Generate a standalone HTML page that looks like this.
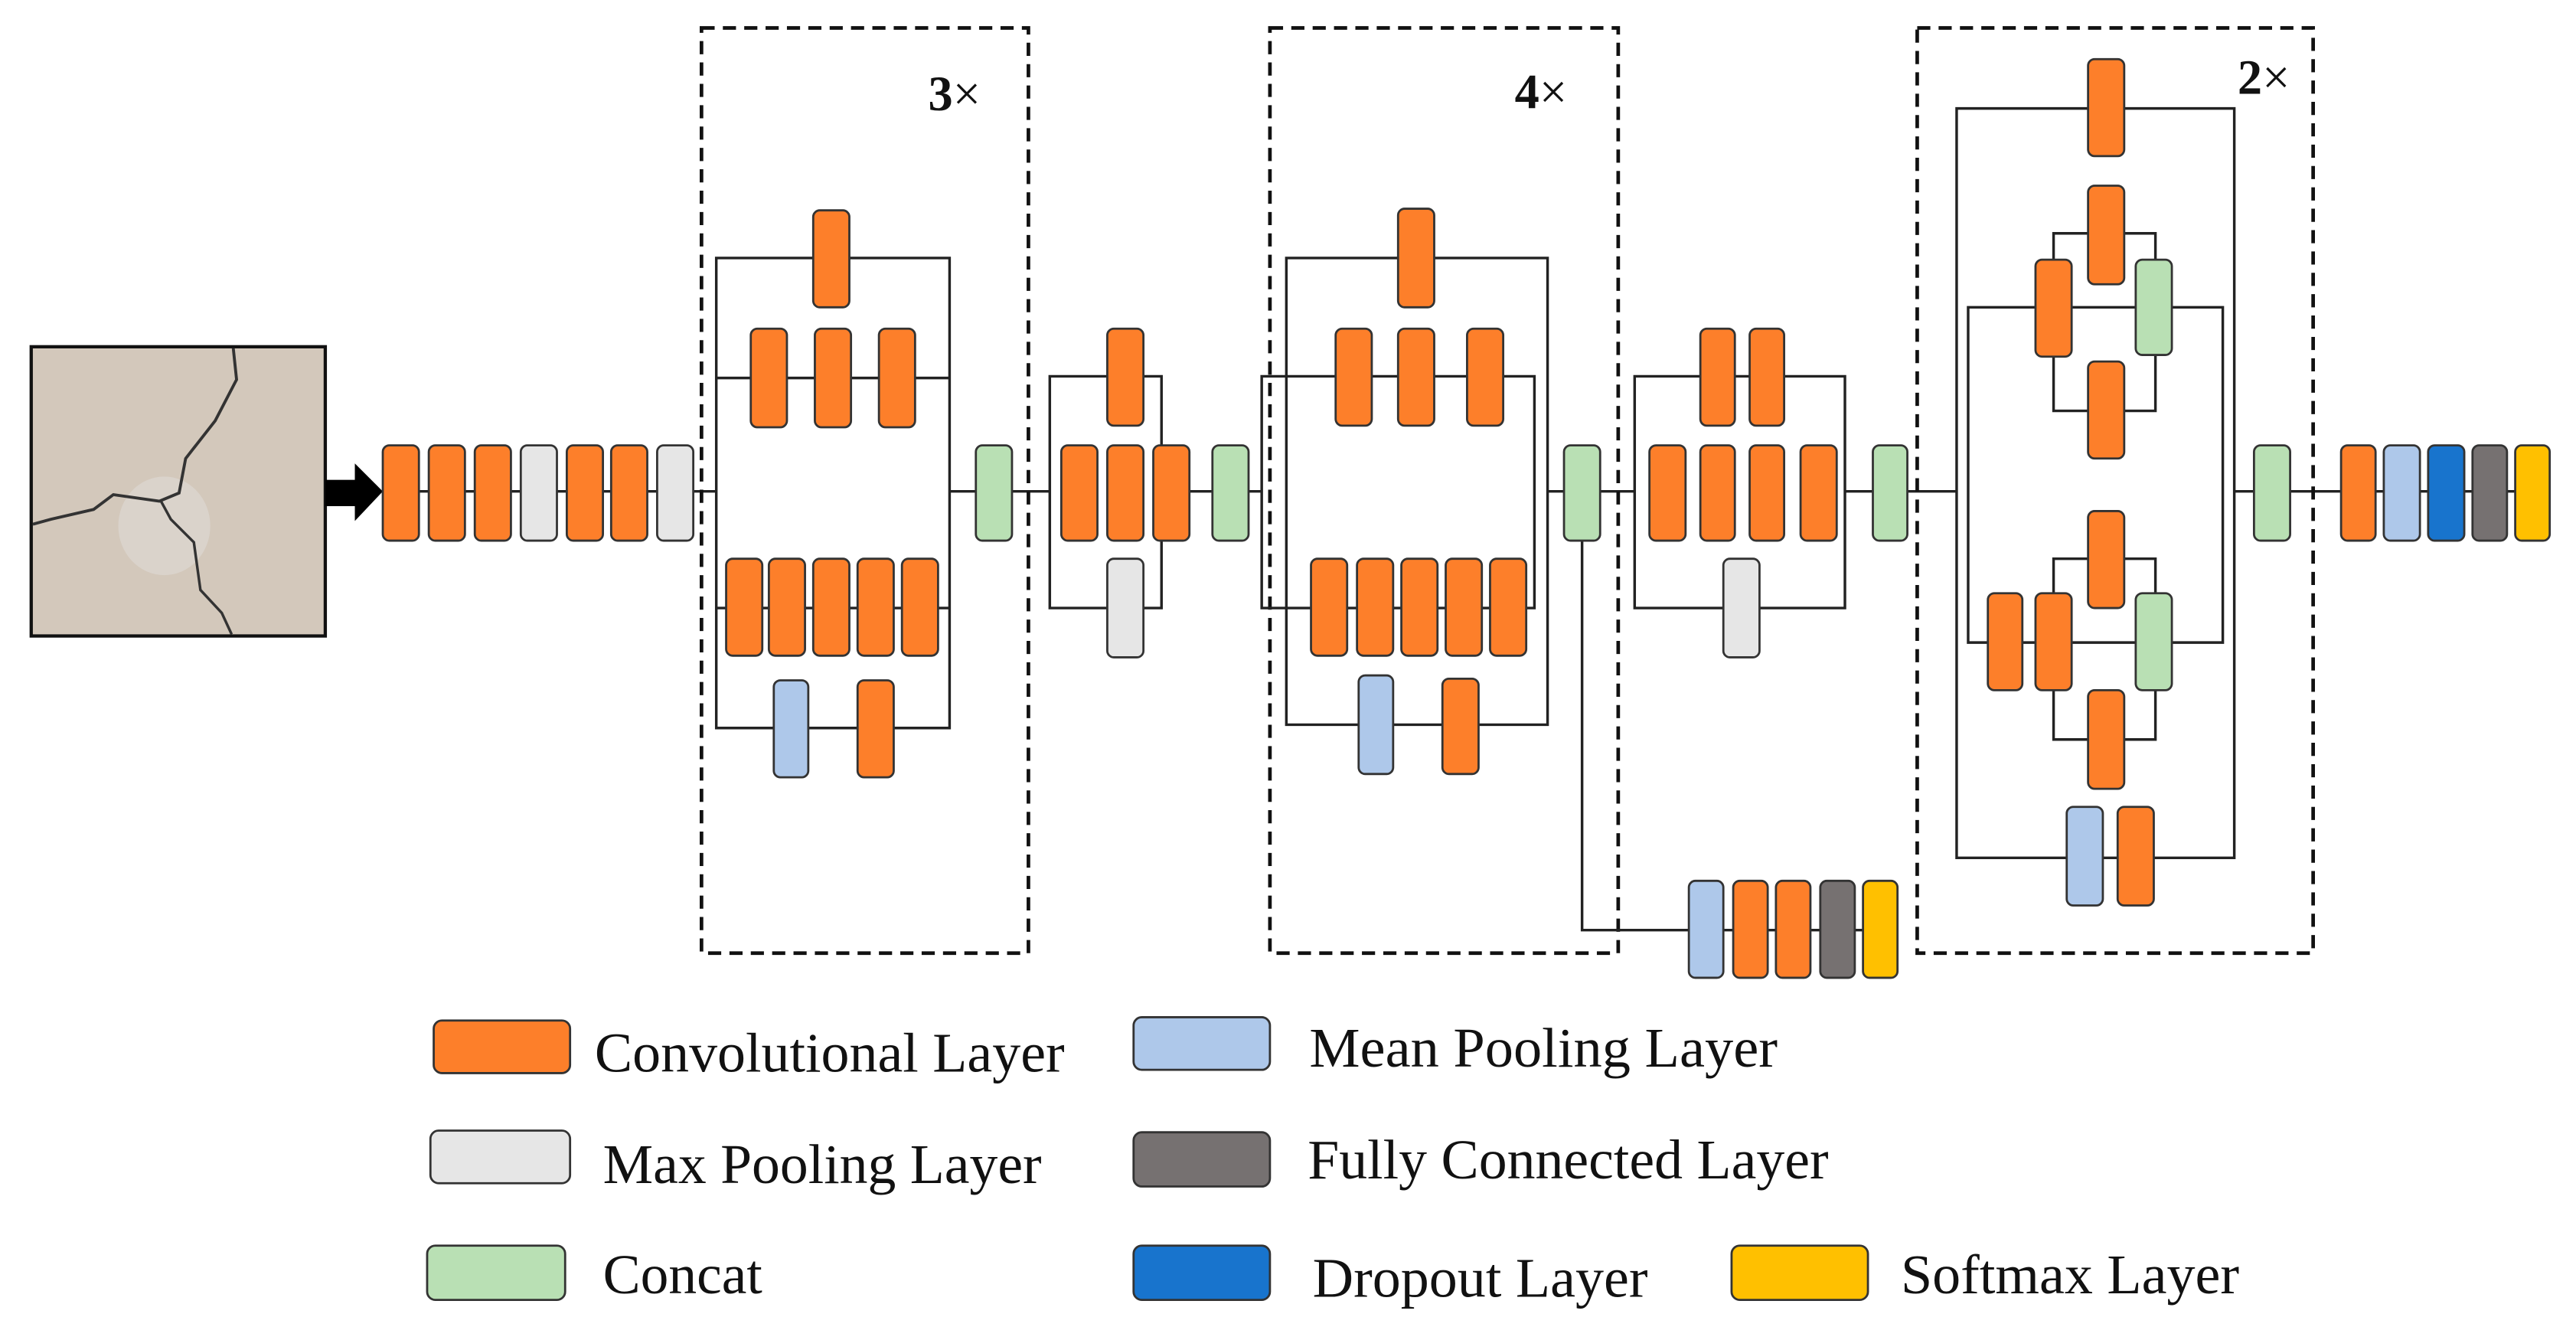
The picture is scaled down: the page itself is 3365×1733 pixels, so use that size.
<!DOCTYPE html>
<html><head><meta charset="utf-8"><style>
html,body{margin:0;padding:0;background:#fff;}
svg{display:block;}
.o{fill:#fd7f2a}.g{fill:#e6e6e6}.c{fill:#b9e0b4}.b{fill:#aec8ea}.d{fill:#1874cd}.f{fill:#767171}.y{fill:#ffc000}
rect.k{stroke:#333;stroke-width:1.3}
.l{stroke:#222;stroke-width:1.6;fill:none}
.dash{stroke:#111;stroke-width:2.2;fill:none;stroke-dasharray:8 5}
text{font-family:"Liberation Serif",serif;fill:#111}
</style></head><body>
<svg width="3365" height="1733" viewBox="0 0 1568 807.5" preserveAspectRatio="none" xmlns="http://www.w3.org/2000/svg">
<rect width="1568" height="808" fill="#fff"/>
<!-- photo -->
<rect x="19" y="211" width="179" height="176" fill="#d3c8bb" stroke="#111" stroke-width="2"/>
<ellipse cx="100" cy="320" rx="28" ry="30" fill="#dcd6cf" opacity="0.8"/>
<path d="M142 212 L144 231 L131 256 L113 279 L109 300 L97 305 L69 301 L57 310 L31 316 L20 319" stroke="#333" stroke-width="1.8" fill="none"/>
<path d="M98 305 L104 316 L118 330 L122 359 L135 373 L141 386" stroke="#333" stroke-width="1.6" fill="none"/>
<!-- arrow -->
<rect x="198" y="292" width="19" height="16" fill="#000"/>
<polygon points="216,282 233,299 216,317" fill="#000"/>
<!-- main line -->
<path class="l" d="M233 299 H436 M578 299 H639 M723 299 H768 M942 299 H995 M1123 299 H1191 M1360 299 H1551"/>
<!-- dashed boxes -->
<rect class="dash" x="427" y="17" width="199" height="563"/>
<rect class="dash" x="773" y="17" width="212" height="563"/>
<rect class="dash" x="1167" y="17" width="241" height="563"/>
<text x="565" y="67" font-size="30" font-weight="bold">3<tspan font-weight="normal">×</tspan></text>
<text x="922" y="66" font-size="30" font-weight="bold">4<tspan font-weight="normal">×</tspan></text>
<text x="1362" y="57" font-size="30" font-weight="bold">2<tspan font-weight="normal">×</tspan></text>
<!-- module 1 -->
<path class="l" d="M436 157 H578 V443 H436 Z M436 230 H578 M436 370 H578"/>
<!-- module 2 -->
<path class="l" d="M639 229 H707 V370 H639 Z"/>
<!-- module 3 -->
<path class="l" d="M783 157 H942 V441 H783 Z M768 229 H934 V370 H768 Z"/>
<!-- concat3 branch -->
<path class="l" d="M963 329 V566 H1155"/>
<!-- module 4 -->
<path class="l" d="M995 229 H1123 V370 H995 Z"/>
<!-- module 5 -->
<path class="l" d="M1191 66 H1360 V522 H1191 Z M1198 187 H1353 V391 H1198 Z M1250 142 H1312 V250 H1250 Z M1250 340 H1312 V450 H1250 Z"/>
<g class="blocks">
<rect class="k o" x="233" y="271" width="22" height="58" rx="4"/>
<rect class="k o" x="261" y="271" width="22" height="58" rx="4"/>
<rect class="k o" x="289" y="271" width="22" height="58" rx="4"/>
<rect class="k g" x="317" y="271" width="22" height="58" rx="4"/>
<rect class="k o" x="345" y="271" width="22" height="58" rx="4"/>
<rect class="k o" x="372" y="271" width="22" height="58" rx="4"/>
<rect class="k g" x="400" y="271" width="22" height="58" rx="4"/>
<rect class="k o" x="495" y="128" width="22" height="59" rx="4"/>
<rect class="k o" x="457" y="200" width="22" height="60" rx="4"/>
<rect class="k o" x="496" y="200" width="22" height="60" rx="4"/>
<rect class="k o" x="535" y="200" width="22" height="60" rx="4"/>
<rect class="k o" x="442" y="340" width="22" height="59" rx="4"/>
<rect class="k o" x="468" y="340" width="22" height="59" rx="4"/>
<rect class="k o" x="495" y="340" width="22" height="59" rx="4"/>
<rect class="k o" x="522" y="340" width="22" height="59" rx="4"/>
<rect class="k o" x="549" y="340" width="22" height="59" rx="4"/>
<rect class="k b" x="471" y="414" width="21" height="59" rx="4"/>
<rect class="k o" x="522" y="414" width="22" height="59" rx="4"/>
<rect class="k c" x="594" y="271" width="22" height="58" rx="4"/>
<rect class="k o" x="674" y="200" width="22" height="59" rx="4"/>
<rect class="k o" x="646" y="271" width="22" height="58" rx="4"/>
<rect class="k o" x="674" y="271" width="22" height="58" rx="4"/>
<rect class="k o" x="702" y="271" width="22" height="58" rx="4"/>
<rect class="k g" x="674" y="340" width="22" height="60" rx="4"/>
<rect class="k c" x="738" y="271" width="22" height="58" rx="4"/>
<rect class="k o" x="851" y="127" width="22" height="60" rx="4"/>
<rect class="k o" x="813" y="200" width="22" height="59" rx="4"/>
<rect class="k o" x="851" y="200" width="22" height="59" rx="4"/>
<rect class="k o" x="893" y="200" width="22" height="59" rx="4"/>
<rect class="k o" x="798" y="340" width="22" height="59" rx="4"/>
<rect class="k o" x="826" y="340" width="22" height="59" rx="4"/>
<rect class="k o" x="853" y="340" width="22" height="59" rx="4"/>
<rect class="k o" x="880" y="340" width="22" height="59" rx="4"/>
<rect class="k o" x="907" y="340" width="22" height="59" rx="4"/>
<rect class="k b" x="827" y="411" width="21" height="60" rx="4"/>
<rect class="k o" x="878" y="413" width="22" height="58" rx="4"/>
<rect class="k c" x="952" y="271" width="22" height="58" rx="4"/>
<rect class="k b" x="1028" y="536" width="21" height="59" rx="4"/>
<rect class="k o" x="1055" y="536" width="21" height="59" rx="4"/>
<rect class="k o" x="1081" y="536" width="21" height="59" rx="4"/>
<rect class="k f" x="1108" y="536" width="21" height="59" rx="4"/>
<rect class="k y" x="1134" y="536" width="21" height="59" rx="4"/>
<rect class="k o" x="1035" y="200" width="21" height="59" rx="4"/>
<rect class="k o" x="1065" y="200" width="21" height="59" rx="4"/>
<rect class="k o" x="1004" y="271" width="22" height="58" rx="4"/>
<rect class="k o" x="1035" y="271" width="21" height="58" rx="4"/>
<rect class="k o" x="1065" y="271" width="21" height="58" rx="4"/>
<rect class="k o" x="1096" y="271" width="22" height="58" rx="4"/>
<rect class="k g" x="1049" y="340" width="22" height="60" rx="4"/>
<rect class="k c" x="1140" y="271" width="21" height="58" rx="4"/>
<rect class="k o" x="1271" y="36" width="22" height="59" rx="4"/>
<rect class="k o" x="1271" y="113" width="22" height="60" rx="4"/>
<rect class="k o" x="1239" y="158" width="22" height="59" rx="4"/>
<rect class="k c" x="1300" y="158" width="22" height="58" rx="4"/>
<rect class="k o" x="1271" y="220" width="22" height="59" rx="4"/>
<rect class="k o" x="1271" y="311" width="22" height="59" rx="4"/>
<rect class="k o" x="1210" y="361" width="21" height="59" rx="4"/>
<rect class="k o" x="1239" y="361" width="22" height="59" rx="4"/>
<rect class="k c" x="1300" y="361" width="22" height="59" rx="4"/>
<rect class="k o" x="1271" y="420" width="22" height="60" rx="4"/>
<rect class="k b" x="1258" y="491" width="22" height="60" rx="4"/>
<rect class="k o" x="1289" y="491" width="22" height="60" rx="4"/>
<rect class="k c" x="1372" y="271" width="22" height="58" rx="4"/>
<rect class="k o" x="1425" y="271" width="21" height="58" rx="4"/>
<rect class="k b" x="1451" y="271" width="22" height="58" rx="4"/>
<rect class="k d" x="1478" y="271" width="22" height="58" rx="4"/>
<rect class="k f" x="1505" y="271" width="21" height="58" rx="4"/>
<rect class="k y" x="1531" y="271" width="21" height="58" rx="4"/>
</g>
<!-- legend -->
<rect class="k o" x="264" y="621" width="83" height="32" rx="5"/>
<text x="362" y="652" font-size="34" textLength="286" lengthAdjust="spacingAndGlyphs">Convolutional Layer</text>
<rect class="k b" x="690" y="619" width="83" height="32" rx="5"/>
<text x="797" y="649" font-size="34" textLength="285" lengthAdjust="spacingAndGlyphs">Mean Pooling Layer</text>
<rect class="k g" x="262" y="688" width="85" height="32" rx="5"/>
<text x="367" y="720" font-size="34" textLength="267" lengthAdjust="spacingAndGlyphs">Max Pooling Layer</text>
<rect class="k f" x="690" y="689" width="83" height="33" rx="5"/>
<text x="796" y="717" font-size="34" textLength="317" lengthAdjust="spacingAndGlyphs">Fully Connected Layer</text>
<rect class="k c" x="260" y="758" width="84" height="33" rx="5"/>
<text x="367" y="787" font-size="34" textLength="97" lengthAdjust="spacingAndGlyphs">Concat</text>
<rect class="k d" x="690" y="758" width="83" height="33" rx="5"/>
<text x="799" y="789" font-size="34" textLength="204" lengthAdjust="spacingAndGlyphs">Dropout Layer</text>
<rect class="k y" x="1054" y="758" width="83" height="33" rx="5"/>
<text x="1157" y="787" font-size="34" textLength="206" lengthAdjust="spacingAndGlyphs">Softmax Layer</text>
</svg>
</body></html>
